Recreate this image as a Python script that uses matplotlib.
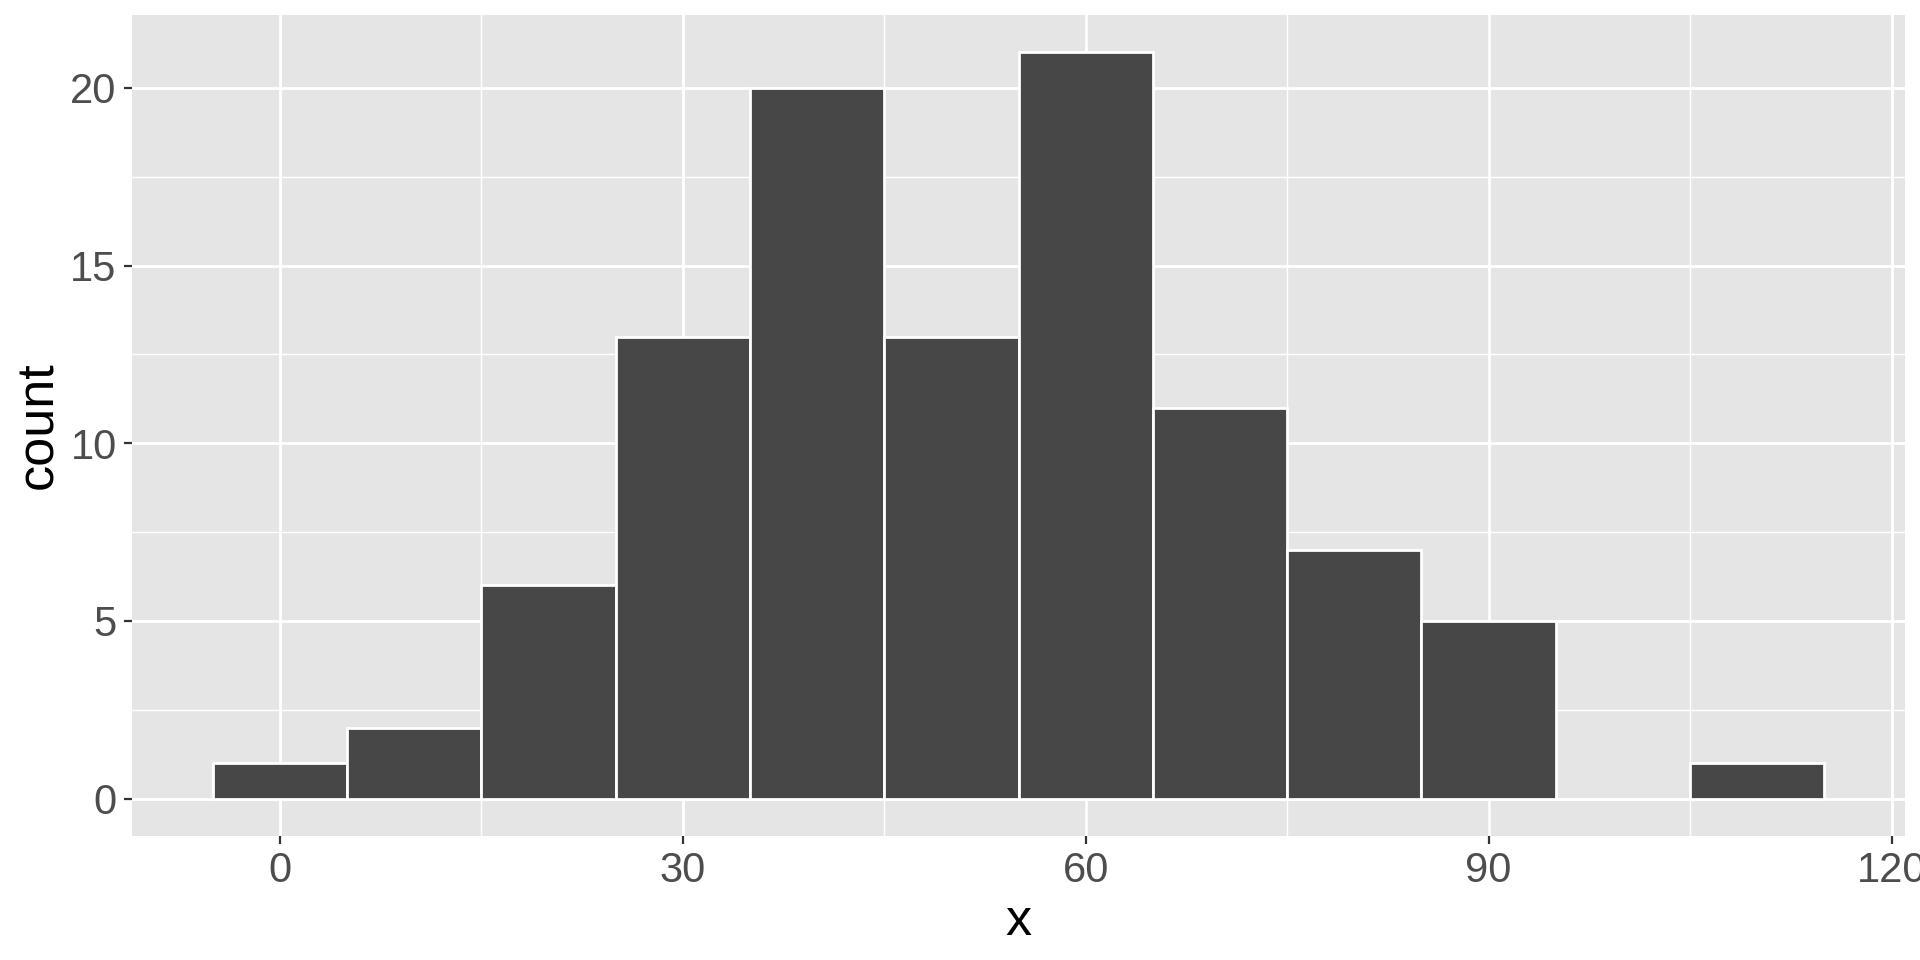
import matplotlib.pyplot as plt
from matplotlib.ticker import MultipleLocator

# histogram bins (width 10) and counts
bin_centers = [0, 10, 20, 30, 40, 50, 60, 70, 80, 90, 100, 110]
counts = [1, 2, 6, 13, 20, 13, 21, 11, 7, 5, 0, 1]
x_ticks = [0, 30, 60, 90, 120]
y_ticks = [0, 5, 10, 15, 20]

plt.rcParams["font.family"] = ["Liberation Sans", "DejaVu Sans"]

fig = plt.figure(figsize=(19.2, 9.6), dpi=100)
ax = fig.add_axes([0.06875, 0.12917, 0.99219 - 0.06875, 0.984375 - 0.12917])
ax.set_facecolor("#E5E5E5")

ax.bar(bin_centers, counts, width=10, color="#474747", edgecolor="white",
       linewidth=2.0, zorder=3)

ax.set_xlim(-11, 121)
ax.set_ylim(-1.05, 22.05)
ax.set_xticks(x_ticks)
ax.set_yticks(y_ticks)
ax.xaxis.set_minor_locator(MultipleLocator(15))
ax.yaxis.set_minor_locator(MultipleLocator(2.5))

ax.grid(which="major", color="white", linewidth=2.0, zorder=0)
ax.grid(which="minor", color="white", linewidth=1.0, zorder=0)
ax.set_axisbelow(True)

for s in ax.spines.values():
    s.set_visible(False)

ax.tick_params(which="major", length=6, width=1.6, color="#333333",
               labelsize=30, labelcolor="#4D4D4D", pad=5)
ax.tick_params(which="minor", length=0)

ax.set_xlabel("x", fontsize=37.5, labelpad=4)
ax.set_ylabel("count", fontsize=37.5, labelpad=5)

fig.savefig("out.png", dpi=100)
